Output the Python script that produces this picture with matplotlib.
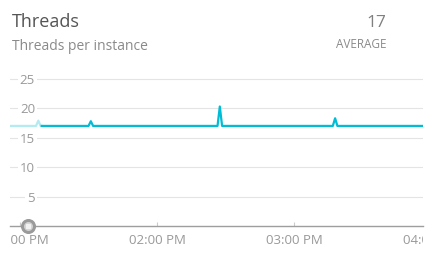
import datetime as dt
import matplotlib
matplotlib.use("Agg")
import matplotlib.pyplot as plt
import matplotlib.dates as mdates
from matplotlib.transforms import Bbox, TransformedBbox, ScaledTranslation

plt.rcParams['font.family'] = ['Open Sans', 'DejaVu Sans']

# -------------------- DATA --------------------
day = dt.date(2024, 1, 1)

def hm(h, m, s=0):
    return dt.datetime.combine(day, dt.time(h, m, s))

# faded (outside selection) part of the series
faded_times = [hm(12, 55, 36), hm(13, 7), hm(13, 8), hm(13, 9), hm(13, 9, 30)]
faded_vals = [17, 17, 17.9, 17, 17]

# active part of the series
times = [hm(13, 9, 30), hm(13, 30), hm(13, 31), hm(13, 32),
         hm(14, 26, 30), hm(14, 27, 30), hm(14, 28, 30),
         hm(15, 17), hm(15, 18), hm(15, 19), hm(15, 56, 30)]
threads = [17, 17, 17.8, 17,
           17, 20.3, 17,
           17, 18.3, 17, 17]

y_ticks = [5, 10, 15, 20, 25]
x_tick_times = [hm(13, 0), hm(14, 0), hm(15, 0), hm(16, 0)]
handle_time = hm(13, 3, 30)

title = "Threads"
subtitle = "Threads per instance"
average = "17"

# -------------------- FIGURE --------------------
fig = plt.figure(figsize=(4.37, 2.58), dpi=100)
ax_l, ax_r = 10 / 437, 423 / 437
ax_b, ax_t = 32 / 258, 188 / 258
ax = fig.add_axes([ax_l, ax_b, ax_r - ax_l, ax_t - ax_b])

ax.plot(faded_times, faded_vals, color='#b2ebf2', lw=1.6, solid_joinstyle='round')
ax.plot(times, threads, color='#00bcd4', lw=1.6, solid_joinstyle='round')

ax.set_xlim(hm(12, 55, 36), hm(15, 56, 30))
ax.set_ylim(0, 26.5)

# grid
for v in y_ticks:
    ax.axhline(v, color='#e4e4e4', lw=0.8, zorder=0)

for s in ['top', 'left', 'right']:
    ax.spines[s].set_visible(False)
ax.spines['bottom'].set_color('#9e9e9e')
ax.spines['bottom'].set_linewidth(1.0)

# y labels inside the plot
ax.set_yticks([0] + y_ticks)
ax.tick_params(axis='y', length=0, pad=-18, labelsize=9.5, labelcolor='#999999')
for lbl in ax.get_yticklabels():
    lbl.set_bbox(dict(facecolor='white', edgecolor='none', pad=1.5))
    lbl.set_zorder(3)

# x ticks and clipped labels
ax.set_xticks([t for t in x_tick_times if t < hm(15, 56)])
ax.tick_params(axis='x', direction='in', length=3, color='#cccccc', labelbottom=False)
clip = TransformedBbox(Bbox.from_extents(ax_l, 0, ax_r, 1), fig.transFigure)
off = ax.get_xaxis_transform() + ScaledTranslation(0, -0.15, fig.dpi_scale_trans)
for t in x_tick_times:
    txt = ax.text(mdates.date2num(t), 0, t.strftime('%I:%M %p'), transform=off,
                  ha='center', va='center', fontsize=9.5, color='#999999',
                  clip_on=True)
    txt.set_clip_box(clip)

# scrubber handle
ax.plot([handle_time], [0], marker='o', ms=9.8, mfc='#9a9a9a', mec='#9a9a9a',
        clip_on=False, zorder=5)
ax.plot([handle_time], [0], marker='o', ms=5.5, mfc='#cfcfcf', mec='#cfcfcf',
        clip_on=False, zorder=6)
ax.plot([handle_time], [0], marker='s', ms=2.5, mfc='#f2f2f2', mec='#f2f2f2',
        clip_on=False, zorder=7)

# header texts
fig.text(12 / 437, 1 - 22 / 258, title, fontsize=13, color='#555555', va='center')
fig.text(12 / 437, 1 - 46 / 258, subtitle, fontsize=10, color='#8a8a8a', va='center')
fig.text(386 / 437, 1 - 23 / 258, average, fontsize=12.5, color='#808080',
         va='center', ha='right')
fig.text(386 / 437, 1 - 45 / 258, "AVERAGE", fontsize=8.5, color='#8a8a8a',
         va='center', ha='right')

fig.savefig("out.png", dpi=100)
